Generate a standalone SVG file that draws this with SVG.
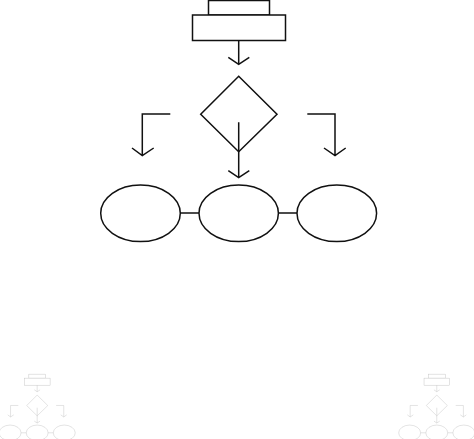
<svg xmlns="http://www.w3.org/2000/svg" xmlns:xlink="http://www.w3.org/1999/xlink" width="474" height="439" viewBox="0 0 474 439">
<style>
.s{fill:#fff;stroke:#111;stroke-width:1.5;stroke-linejoin:miter}
.c{fill:none;stroke:#111;stroke-width:1.5}
</style>
<rect width="474" height="439" fill="#fff"/>
<g id="icon">
<g id="top-block"><rect class="s" x="208.5" y="0.5" width="61" height="14.5"/></g>
<g id="start"><rect class="s" x="192.5" y="15" width="93" height="25.5"/></g>
<g id="decision"><polygon class="s" points="238.7,76.3 277,114.3 238.7,151.7 200.7,114.3"/></g>
<g id="node-left"><ellipse class="s" cx="140.5" cy="213.3" rx="39.8" ry="28.3"/></g>
<g id="node-mid"><ellipse class="s" cx="238.7" cy="213.3" rx="39.7" ry="28.3"/></g>
<g id="node-right"><ellipse class="s" cx="336.8" cy="213.3" rx="39.8" ry="28.3"/></g>
<g id="connectors">
<path class="c" d="M238.7 40.5V64.3M228.3 57.3L238.7 64.3L249.3 57.3"/>
<path class="c" d="M238.7 122.3V177.7M228.3 170.7L238.7 177.7L249.3 170.7"/>
<path class="c" d="M170.3 114H142.3V155.7M132 148L142.3 155.7L153.7 148"/>
<path class="c" d="M307.3 114H335V155.7M324 148L335 155.7L345.7 148"/>
<path class="c" d="M180.3 213H199M278.4 213H297"/>
</g>
</g>
<g id="thumb-left" opacity="0.28"><use xlink:href="#icon" transform="translate(-28.7,374) scale(0.276)"/></g>
<g id="thumb-right" opacity="0.28"><use xlink:href="#icon" transform="translate(370.9,374) scale(0.276)"/></g>
</svg>
